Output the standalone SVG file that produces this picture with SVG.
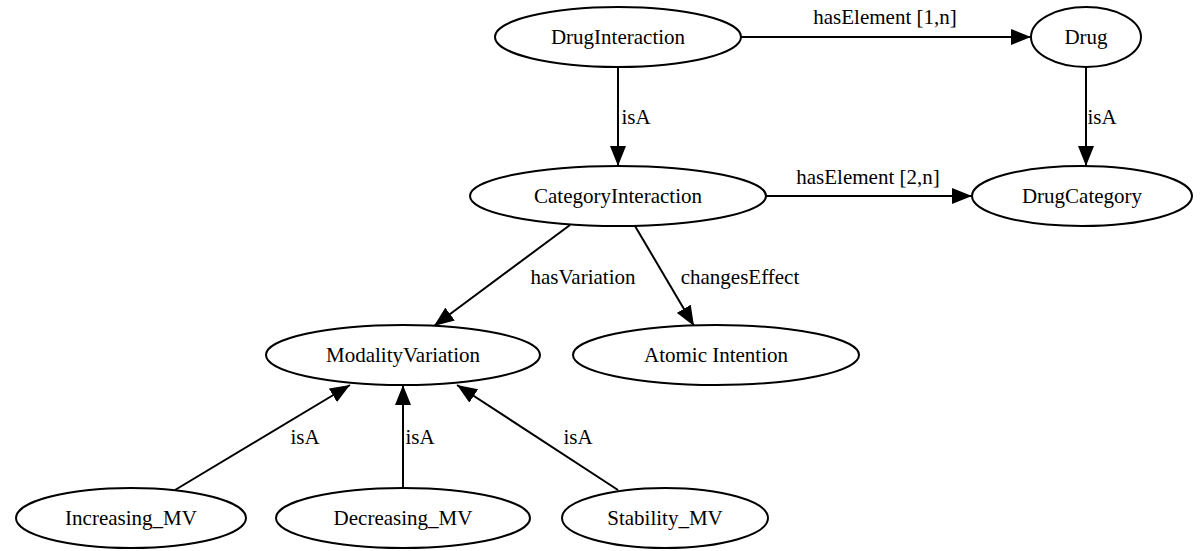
<svg xmlns="http://www.w3.org/2000/svg" width="1200" height="551" viewBox="0 0 1200 551">
<style>
ellipse{fill:#fff;stroke:#000;stroke-width:2}
text{font-family:"Liberation Serif","Times New Roman",serif;font-size:21px;text-anchor:middle;fill:#000}
.e line{stroke:#000;stroke-width:2;marker-end:url(#a)}
</style>
<defs><marker id="a" markerWidth="10" markerHeight="8" refX="10" refY="4" orient="auto" markerUnits="userSpaceOnUse" viewBox="0 0 10 8"><path d="M0,0L10,4L0,8z" fill="#000"/></marker></defs>
<defs><marker id="b" markerWidth="20" markerHeight="16" refX="20" refY="8" orient="auto" markerUnits="userSpaceOnUse" viewBox="0 0 20 16"><path d="M0,0L20,8L0,16z" fill="#000"/></marker></defs>
<g class="e" id="edges" style="--m:url(#b)">
<line x1="741" y1="37" x2="1031" y2="37" style="marker-end:url(#b)"/>
<line x1="618" y1="67" x2="618" y2="166" style="marker-end:url(#b)"/>
<line x1="1086" y1="67" x2="1086" y2="166" style="marker-end:url(#b)"/>
<line x1="766" y1="196" x2="972" y2="196" style="marker-end:url(#b)"/>
<line x1="570" y1="225" x2="434" y2="326" style="marker-end:url(#b)"/>
<line x1="635" y1="226" x2="694" y2="326" style="marker-end:url(#b)"/>
<line x1="175" y1="490" x2="350" y2="385" style="marker-end:url(#b)"/>
<line x1="403" y1="488" x2="403" y2="385" style="marker-end:url(#b)"/>
<line x1="618" y1="490" x2="457" y2="385" style="marker-end:url(#b)"/>
<text x="885" y="24">hasElement [1,n]</text>
<text x="636" y="124">isA</text>
<text x="1102" y="124">isA</text>
<text x="868" y="184">hasElement [2,n]</text>
<text x="583" y="284">hasVariation</text>
<text x="740" y="284">changesEffect</text>
<text x="305" y="444">isA</text>
<text x="420" y="444">isA</text>
<text x="578" y="444">isA</text>
</g>
<g id="DrugInteraction"><ellipse cx="618" cy="37" rx="123" ry="30"/><text x="618" y="44">DrugInteraction</text></g>
<g id="Drug"><ellipse cx="1086" cy="37" rx="55" ry="30"/><text x="1086" y="44">Drug</text></g>
<g id="CategoryInteraction"><ellipse cx="618" cy="196" rx="148" ry="30"/><text x="618" y="203">CategoryInteraction</text></g>
<g id="DrugCategory"><ellipse cx="1082" cy="196" rx="110" ry="30"/><text x="1082" y="203">DrugCategory</text></g>
<g id="ModalityVariation"><ellipse cx="403" cy="355" rx="137" ry="30"/><text x="403" y="362">ModalityVariation</text></g>
<g id="AtomicIntention"><ellipse cx="716" cy="355" rx="143" ry="30"/><text x="716" y="362">Atomic Intention</text></g>
<g id="Increasing_MV"><ellipse cx="131" cy="518" rx="115" ry="30"/><text x="131" y="525">Increasing_MV</text></g>
<g id="Decreasing_MV"><ellipse cx="403" cy="518" rx="127" ry="30"/><text x="403" y="525">Decreasing_MV</text></g>
<g id="Stability_MV"><ellipse cx="665" cy="518" rx="103" ry="30"/><text x="665" y="525">Stability_MV</text></g>
</svg>
